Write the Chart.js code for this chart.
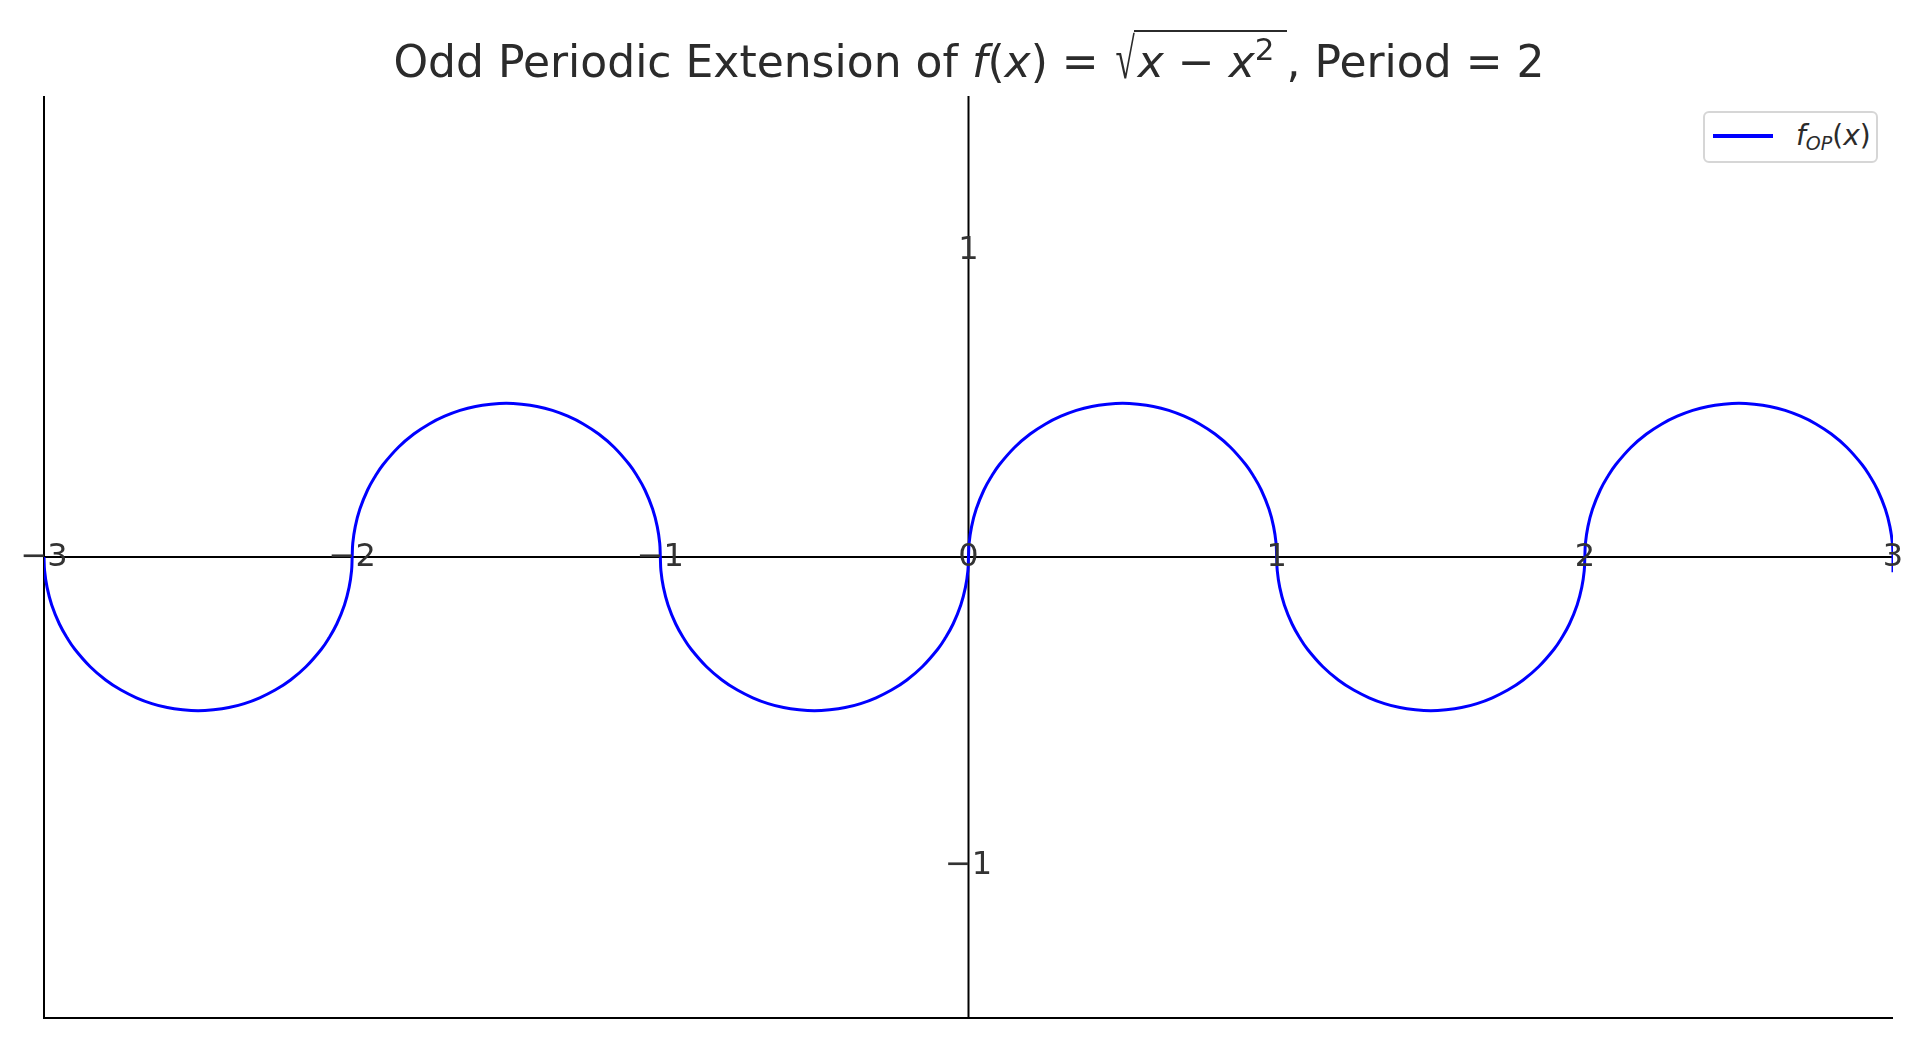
<!DOCTYPE html>
<html>
<head>
<meta charset="utf-8">
<title>Extension periodica impar</title>
<script src="https://cdn.jsdelivr.net/npm/chart.js@4"></script>
<style>
	body { margin: 0; background: #fff; }
	#contenedor { position: relative; width: 1922px; height: 1040px; }
	#titulo {
		position: absolute; left: 0; top: 30px; width: 1938px; text-align: center;
		font-family: "DejaVu Sans"; font-size: 44px; line-height: 44px; color: #2b2b2b;
		white-space: nowrap;
	}
	#titulo i { font-style: italic; }
	.raiz { display: inline-block; transform: scale(0.8, 1.3); transform-origin: 50% 80%; font-weight: lighter; }
	.barra { display: inline-block; border-top: 2px solid #2b2b2b; padding-top: 8px; padding-left: 4px; padding-right: 12px; margin-left: -3px; line-height: 44px; }
	.barra sup { font-size: 31px; vertical-align: 17px; line-height: 0; font-style: normal; }
	#leyenda {
		position: absolute; left: 1703px; top: 111px; width: 171px; height: 48px;
		border: 2px solid #d6d6d6; border-radius: 6px; background: #fff;
	}
	#leyenda .muestra { position: absolute; left: 8px; top: 21px; width: 60px; height: 4px; background: #0000ff; }
	#leyenda .texto {
		position: absolute; left: 91px; top: 8px; font-family: "DejaVu Sans"; font-size: 28px;
		line-height: 30px; color: #2b2b2b; white-space: nowrap;
	}
	#leyenda sub { font-size: 19px; font-style: italic; vertical-align: -5px; line-height: 0; }
</style>
</head>
<body>
<div id="contenedor">
	<canvas id="Grafico" width="1922" height="1040"></canvas>
	<div id="titulo">Odd Periodic Extension of <i>f</i>(<i>x</i>) = <span class="raiz">√</span><span class="barra"><i>x</i> − <i>x</i><sup>2</sup></span>, Period = 2</div>
	<div id="leyenda"><div class="muestra"></div><div class="texto"><i>f</i><sub>OP</sub>(<i>x</i>)</div></div>
</div>
<script>
	// valores: cada medio arco ocupa una unidad
	const curvaX = [
		-3, -2.998, -2.99, -2.975, -2.95, -2.925, -2.9, -2.85, -2.8, -2.75, -2.7, -2.65, -2.6, -2.55, -2.5, -2.45, -2.4, -2.35, -2.3, -2.25, -2.2, -2.15, -2.1, -2.075, -2.05, -2.025, -2.01, -2.002,
		-2, -1.998, -1.99, -1.975, -1.95, -1.925, -1.9, -1.85, -1.8, -1.75, -1.7, -1.65, -1.6, -1.55, -1.5, -1.45, -1.4, -1.35, -1.3, -1.25, -1.2, -1.15, -1.1, -1.075, -1.05, -1.025, -1.01, -1.002,
		-1, -0.998, -0.99, -0.975, -0.95, -0.925, -0.9, -0.85, -0.8, -0.75, -0.7, -0.65, -0.6, -0.55, -0.5, -0.45, -0.4, -0.35, -0.3, -0.25, -0.2, -0.15, -0.1, -0.075, -0.05, -0.025, -0.01, -0.002,
		0, 0.002, 0.01, 0.025, 0.05, 0.075, 0.1, 0.15, 0.2, 0.25, 0.3, 0.35, 0.4, 0.45, 0.5, 0.55, 0.6, 0.65, 0.7, 0.75, 0.8, 0.85, 0.9, 0.925, 0.95, 0.975, 0.99, 0.998,
		1, 1.002, 1.01, 1.025, 1.05, 1.075, 1.1, 1.15, 1.2, 1.25, 1.3, 1.35, 1.4, 1.45, 1.5, 1.55, 1.6, 1.65, 1.7, 1.75, 1.8, 1.85, 1.9, 1.925, 1.95, 1.975, 1.99, 1.998,
		2, 2.002, 2.01, 2.025, 2.05, 2.075, 2.1, 2.15, 2.2, 2.25, 2.3, 2.35, 2.4, 2.45, 2.5, 2.55, 2.6, 2.65, 2.7, 2.75, 2.8, 2.85, 2.9, 2.925, 2.95, 2.975, 2.99, 2.998,
		3, 3
	]
	const curvaY = [
		0, -0.045, -0.099, -0.156, -0.218, -0.263, -0.3, -0.357, -0.4, -0.433, -0.458, -0.477, -0.49, -0.497, -0.5, -0.497, -0.49, -0.477, -0.458, -0.433, -0.4, -0.357, -0.3, -0.263, -0.218, -0.156, -0.099, -0.045,
		0, 0.045, 0.099, 0.156, 0.218, 0.263, 0.3, 0.357, 0.4, 0.433, 0.458, 0.477, 0.49, 0.497, 0.5, 0.497, 0.49, 0.477, 0.458, 0.433, 0.4, 0.357, 0.3, 0.263, 0.218, 0.156, 0.099, 0.045,
		0, -0.045, -0.099, -0.156, -0.218, -0.263, -0.3, -0.357, -0.4, -0.433, -0.458, -0.477, -0.49, -0.497, -0.5, -0.497, -0.49, -0.477, -0.458, -0.433, -0.4, -0.357, -0.3, -0.263, -0.218, -0.156, -0.099, -0.045,
		0, 0.045, 0.099, 0.156, 0.218, 0.263, 0.3, 0.357, 0.4, 0.433, 0.458, 0.477, 0.49, 0.497, 0.5, 0.497, 0.49, 0.477, 0.458, 0.433, 0.4, 0.357, 0.3, 0.263, 0.218, 0.156, 0.099, 0.045,
		0, -0.045, -0.099, -0.156, -0.218, -0.263, -0.3, -0.357, -0.4, -0.433, -0.458, -0.477, -0.49, -0.497, -0.5, -0.497, -0.49, -0.477, -0.458, -0.433, -0.4, -0.357, -0.3, -0.263, -0.218, -0.156, -0.099, -0.045,
		0, 0.045, 0.099, 0.156, 0.218, 0.263, 0.3, 0.357, 0.4, 0.433, 0.458, 0.477, 0.49, 0.497, 0.5, 0.497, 0.49, 0.477, 0.458, 0.433, 0.4, 0.357, 0.3, 0.263, 0.218, 0.156, 0.099, 0.045,
		0, -0.05
	]

	// marcas de los ejes
	const ticksX = [-3, -2, -1, 0, 1, 2, 3]
	const ticksY = [-1, 1]

	// limites de los ejes
	const limiteX = [-3, 3]
	const limiteY = [-1.5, 1.5]

	const puntos = curvaX.map((x, i) => ({ x: x, y: curvaY[i] }))

	// dibuja los ejes centrados, los bordes y las etiquetas
	const ejes = {
		id: 'ejes',
		beforeDatasetsDraw(chart) {
			const ctx = chart.ctx
			const sx = chart.scales.x
			const sy = chart.scales.y
			const x0 = sx.getPixelForValue(0)
			const y0 = sy.getPixelForValue(0)
			const izq = sx.getPixelForValue(limiteX[0])
			const der = sx.getPixelForValue(limiteX[1])
			const arriba = sy.getPixelForValue(limiteY[1])
			const abajo = sy.getPixelForValue(limiteY[0])

			ctx.save()
			ctx.strokeStyle = '#000'
			ctx.lineWidth = 2
			ctx.beginPath()
			// borde izquierdo y borde inferior
			ctx.moveTo(izq, arriba); ctx.lineTo(izq, abajo); ctx.lineTo(der, abajo)
			// ejes en cero
			ctx.moveTo(izq, y0); ctx.lineTo(der, y0)
			ctx.moveTo(x0, arriba); ctx.lineTo(x0, abajo)
			ctx.stroke()
			ctx.restore()
		},
		afterDatasetsDraw(chart) {
			const ctx = chart.ctx
			const sx = chart.scales.x
			const sy = chart.scales.y
			const x0 = sx.getPixelForValue(0)
			const y0 = sy.getPixelForValue(0)

			ctx.save()
			ctx.fillStyle = '#333'
			ctx.font = '32px "DejaVu Sans"'
			ctx.textAlign = 'center'
			ctx.textBaseline = 'middle'
			ticksX.forEach(v => {
				ctx.fillText(v < 0 ? '\u2212' + Math.abs(v) : String(v), sx.getPixelForValue(v), y0 + 1)
			})
			ticksY.forEach(v => {
				ctx.fillText(v < 0 ? '\u2212' + Math.abs(v) : String(v), x0, sy.getPixelForValue(v) + 1)
			})
			ctx.restore()
		}
	}

	const config = {
		type: 'line',
		data: {
			datasets: [{
				label: 'f_OP(x)',
				data: puntos,
				borderColor: '#0000ff',
				borderWidth: 3,
				pointRadius: 0,
				tension: 0.4,
				fill: false
			}]
		},
		options: {
			responsive: false,
			animation: false,
			devicePixelRatio: 1,
			layout: { padding: { left: 44, right: 29, top: 96, bottom: 22 } },
			plugins: {
				legend: { display: false },
				title: { display: false },
				tooltip: { enabled: false }
			},
			scales: {
				x: { type: 'linear', min: limiteX[0], max: limiteX[1], display: false },
				y: { type: 'linear', min: limiteY[0], max: limiteY[1], display: false }
			}
		},
		plugins: [ejes]
	}

	let grafico = new Chart(document.querySelector("#Grafico"), config)
</script>
</body>
</html>
